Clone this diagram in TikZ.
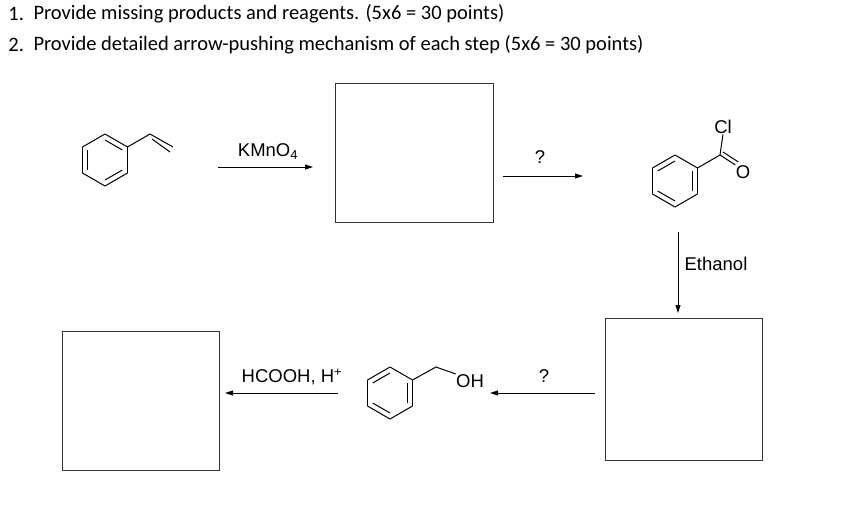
\documentclass[tikz,border=0pt]{standalone}
\usepackage{fontspec}
\setmainfont{Carlito}
\newfontfamily\arialf{Liberation Sans}
\usetikzlibrary{arrows.meta,calc}
\begin{document}
\begin{tikzpicture}[x=1pt,y=-1pt,line width=1pt,
  bx/.style={draw=black!80,line width=1.2pt},
  rx/.style={-{Triangle[length=8pt,width=5pt]},line width=1pt},
  lab/.style={font=\arialf\fontsize{18.5}{20}\selectfont,inner sep=0pt},
  tl/.style={anchor=west,font=\fontsize{20.5}{23}\selectfont,inner sep=0pt},
  bond/.style={line width=1pt}]
\useasboundingbox (0,0) rectangle (841,507);
\node[tl] (n1) at (8,14) {1.};
\node[tl] (l1) at (33,14) {Provide missing products and reagents. (5x6 = 30 points)};
\node[tl] (n2) at (8,45) {2.};
\node[tl] (l2) at (33,45) {Provide detailed arrow-pushing mechanism of each step (5x6 = 30 points)};
% boxes
\node[bx,minimum width=158pt,minimum height=139pt,anchor=north west] (b1) at (335,83) {};
\node[bx,minimum width=157pt,minimum height=142pt,anchor=north west] (b2) at (605,318) {};
\node[bx,minimum width=157pt,minimum height=139pt,anchor=north west] (b3) at (62,331) {};
% styrene
\foreach \a in {30,90,...,330}{\draw[bond] (105,160)++(\a:26) -- ++(\a+120:26);}
\draw[bond] (105,160) ++(-30:20) -- ++(-150:20) ;
\draw[bond] (105,160) ++(90:20) -- ++(-30:20);
\draw[bond] (105,160) ++(150:20) -- ++(-90:20);
\coordinate (s1) at (127.5,147);
\coordinate (s2) at (150,134);
\coordinate (s3) at (173,147);
\draw[bond] (s1)--(s2)--(s3);
\draw[bond] ($(s2)+(2,5)$) -- ($(s3)+(-3,5)$);
% acyl chloride
\foreach \a in {30,90,...,330}{\draw[bond] (675,181)++(\a:26) -- ++(\a+120:26);}
\draw[bond] (675,181) ++(30:20) -- ++(-90:20);
\draw[bond] (675,181) ++(150:20) -- ++(30:20);
\draw[bond] (675,181) ++(-90:20) -- ++(150:20);
\coordinate (c1) at (697.5,168);
\coordinate (c2) at (720,155);
\node[lab] (cl) at (723,127) {Cl};
\node[lab] (ox) at (743,172) {O};
\draw[bond] (c1)--(c2)--(cl.south);
\draw[bond] (c2)--(ox.north west);
\draw[bond] ($(c2)+(3,-3)$)--($(ox.north west)+(3,-3)$);
% benzyl alcohol
\foreach \a in {30,90,...,330}{\draw[bond] (390,393)++(\a:26) -- ++(\a+120:26);}
\draw[bond] (390,393) ++(30:20) -- ++(-90:20);
\draw[bond] (390,393) ++(150:20) -- ++(30:20);
\draw[bond] (390,393) ++(-90:20) -- ++(150:20);
\node[lab] (oh) at (470,381) {OH};
\draw[bond] (412.5,380)--(436,367)--(oh.north west);
% arrows
\coordinate (a1s) at (218,167); \coordinate (a1e) at (313,167);
\draw[rx] (a1s)--(a1e);
\node[lab] (k) at (268,152) {KMnO\textsubscript{4}};
\coordinate (a2s) at (503,176); \coordinate (a2e) at (583,176);
\draw[rx] (a2s)--(a2e);
\node[lab] (q1) at (540,157) {?};
\coordinate (a3s) at (678,232); \coordinate (a3e) at (678,313);
\draw[rx] (a3s)--(a3e);
\node[lab] (et) at (716,264) {Ethanol};
\coordinate (a4s) at (595,393); \coordinate (a4e) at (490,393);
\draw[rx] (a4s)--(a4e);
\node[lab] (q2) at (544,376) {?};
\coordinate (a5s) at (338,393); \coordinate (a5e) at (225,393);
\draw[rx] (a5s)--(a5e);
\node[lab] (hc) at (292,377) {HCOOH, H\textsuperscript{+}};
\end{tikzpicture}
\end{document}
